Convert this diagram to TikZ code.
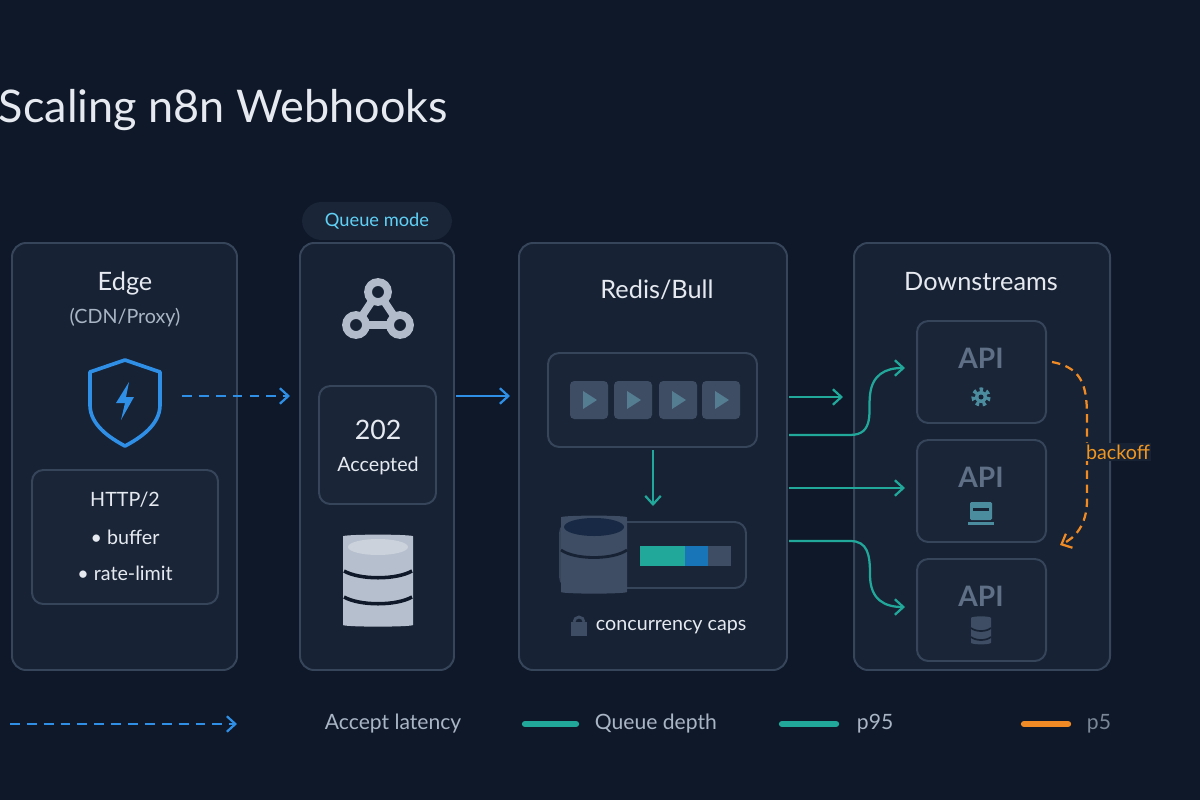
\documentclass[tikz,border=0pt]{standalone}
\usepackage{fontspec}
\setmainfont{Lato}
\usetikzlibrary{arrows.meta,positioning,shapes.geometric}
\definecolor{bgdark}{HTML}{0E1828}
\definecolor{panelfill}{HTML}{172234}
\definecolor{panelline}{HTML}{36455A}
\definecolor{boxfill}{HTML}{1A2638}
\definecolor{txtmain}{HTML}{E6EAF0}
\definecolor{txtsub}{HTML}{A9B4C4}
\definecolor{flowblue}{HTML}{2F8FE6}
\definecolor{flowteal}{HTML}{22A89A}
\definecolor{flowor}{HTML}{F08A24}
\definecolor{apigray}{HTML}{5E6F86}
\definecolor{iconslate}{HTML}{3E4D63}

\begin{document}
\begin{tikzpicture}[x=0.025cm,y=-0.025cm,
  panel/.style={draw=panelline,line width=1.4pt,fill=panelfill,rounded corners=10pt},
  inbox/.style={draw=panelline,line width=1.4pt,fill=boxfill,rounded corners=8pt},
  ptitle/.style={text=txtmain,font=\fontsize{18}{20}\selectfont},
  btext/.style={text=txtmain,font=\fontsize{14}{16}\selectfont},
  apitxt/.style={text=apigray,font=\bfseries\fontsize{20}{22}\selectfont},
  tealflow/.style={draw=flowteal,line width=1.6pt,-{Straight Barb[length=6pt,width=11pt]}},
  legtxt/.style={text=txtsub,font=\fontsize{15}{17}\selectfont,anchor=west}]
  \fill[bgdark] (0,0) rectangle (1200,800);
  \useasboundingbox (0,0) rectangle (1200,800);
  \node[anchor=west,text=txtmain,font=\fontsize{32}{35}\selectfont] (title) at (-6,110) {Scaling n8n Webhooks};

  % panels
  \draw[panel] (12,243) rectangle (237,670);
  \draw[panel] (300,243) rectangle (454,670);
  \draw[panel] (519,243) rectangle (787,670);
  \draw[panel] (854,243) rectangle (1110,670);

  % edge
  \node[ptitle] (edge) at (125,283) {Edge};
  \node[btext,text=txtsub] (proxy) at (125,318) {(CDN/Proxy)};
  \draw[flowblue,line width=2.6pt,line join=round] (125,360) -- (160,372) -- (160,405)
    .. controls (160,425) and (140,438) .. (125,446) .. controls (110,438) and (90,425) .. (90,405)
    -- (90,372) -- cycle;
  \fill[flowblue] (129,382) -- (116,403) -- (125,403) -- (121,420) -- (134,397) -- (126,397) -- cycle;
  \coordinate (shield) at (182,396);
  \draw[inbox] (32,470) rectangle (218,604);
  \node[btext] (http) at (125,500) {HTTP/2};
  \node[btext] (buf) at (125,537) {\textbullet\ buffer};
  \node[btext] (rate) at (125,573) {\textbullet\ rate-limit};

  % queue mode
  \fill[boxfill,rounded corners=14pt] (302,202) rectangle (452,240);
  \node[text=flowblue!60!cyan!70!white,font=\fontsize{13}{15}\selectfont] (qmode) at (377,221) {Queue mode};
  \begin{scope}[draw=txtsub!90!white,line width=5.5pt]
    \draw (378,292) -- (356,325) -- (400,325) -- cycle;
    \draw[fill=panelfill] (378,292) circle (10);
    \draw[fill=panelfill] (356,325) circle (10);
    \draw[fill=panelfill] (400,325) circle (10);
  \end{scope}
  \draw[inbox] (319,386) rectangle (436,504);
  \node[text=txtmain,font=\fontsize{19}{21}\selectfont] (code) at (378,430) {202};
  \node[btext] (acc) at (378,466) {Accepted};
  \node[cylinder,shape border rotate=90,aspect=0.35,minimum width=70*0.025cm,minimum height=92*0.025cm,
    fill=txtsub!85!white,draw=none] (qdb) at (378,582) {};
  \fill[txtsub!60!white] (378,547) ellipse (30 and 8);
  \draw[bgdark,line width=2.5pt] (344,571) .. controls (360,580) and (396,580) .. (412,571);
  \draw[bgdark,line width=2.5pt] (344,597) .. controls (360,606) and (396,606) .. (412,597);

  % redis
  \node[ptitle] (redis) at (657,290) {Redis/Bull};
  \draw[inbox] (548,353) rectangle (757,447);
  \foreach \qx in {589,633,678,721}{
    \fill[iconslate,rounded corners=3pt] (\qx-19,381) rectangle (\qx+19,419);
    \fill[apigray!90!cyan] (\qx-6,391) -- (\qx+8,400) -- (\qx-6,409) -- cycle;
  }
  \coordinate (qtop) at (653,450);
  \draw[inbox] (560,522) rectangle (746,588);
  \coordinate (qdown) at (653,506);
  \draw[flowteal,line width=1.6pt,-{Straight Barb[length=6pt,width=11pt]}] (qtop) -- (qdown);
  \node[cylinder,shape border rotate=90,aspect=0.35,minimum width=66*0.025cm,minimum height=78*0.025cm,
    fill=iconslate,draw=none] (rdb) at (594,556) {};
  \fill[iconslate!120!white] (594,527) ellipse (30 and 9);
  \draw[panelfill,line width=2pt] (561,550) .. controls (575,560) and (613,560) .. (627,550);
  \fill[iconslate] (708,546) rectangle (731,566);
  \fill[flowteal!70!blue] (685,546) rectangle (708,566);
  \fill[flowteal] (640,546) rectangle (685,566);
  \fill[iconslate] (571,622) rectangle (587,636);
  \draw[iconslate,line width=2pt] (574,622) arc[start angle=180,end angle=360,radius=5];
  \node[btext,anchor=west] (caps) at (591,627) {concurrency caps};

  % downstreams
  \node[ptitle] (down) at (981,282) {Downstreams};
  \foreach \ay/\nm in {321/apiA,440/apiB,559/apiC}{
    \draw[inbox] (917,\ay) rectangle (1046,\ay+102);
    \node[apitxt] (\nm) at (981,\ay+37) {API};
  }
  \coordinate (inA) at (905,368);
  \coordinate (inB) at (905,488);
  \coordinate (inC) at (905,607);
  \draw[apigray!80!cyan,line width=3pt,dash pattern=on 2.4pt off 2.4pt] (981,397) circle (7.5);
  \fill[apigray!80!cyan] (981,397) circle (6);
  \fill[panelfill] (981,397) circle (2.5);
  \fill[apigray!80!cyan,rounded corners=1pt] (970,502) rectangle (992,520);
  \fill[panelfill] (973,508) rectangle (989,511);
  \fill[apigray!80!cyan] (968,522) rectangle (994,525);
  \node[cylinder,shape border rotate=90,aspect=0.35,minimum width=20*0.025cm,minimum height=28*0.025cm,
    fill=iconslate,draw=none] at (981,632) {};
  \draw[panelfill,line width=1.2pt] (971,628) .. controls (976,632) and (986,632) .. (991,628);
  \draw[panelfill,line width=1.2pt] (971,637) .. controls (976,641) and (986,641) .. (991,637);

  % flows
  \draw[flowblue,line width=1.6pt,dash pattern=on 7pt off 5pt,-{Straight Barb[length=6pt,width=11pt]}] (shield) -- (290,396);
  \draw[flowblue,line width=1.6pt,-{Straight Barb[length=6pt,width=11pt]}] (456,396) -- (510,396);
  \coordinate (rq1) at (789,397);
  \coordinate (rq2) at (789,435);
  \coordinate (rq3) at (789,488);
  \coordinate (rq4) at (789,541);
  \draw[tealflow] (rq1) -- (843,397);
  \draw[tealflow] (rq2) -- (850,435) .. controls (875,435) and (868,410) .. (870,395) .. controls (872,375) and (885,368) .. (inA);
  \draw[tealflow] (rq3) -- (inB);
  \draw[tealflow] (rq4) -- (850,541) .. controls (868,541) and (870,555) .. (870,575) .. controls (870,600) and (885,607) .. (inC);
  \coordinate (boff) at (1052,362);
  \draw[flowor,line width=1.6pt,dash pattern=on 6pt off 4pt,-{Straight Barb[length=6pt,width=11pt]}]
    (boff) .. controls (1085,368) and (1087,390) .. (1087,420) -- (1087,500) .. controls (1087,525) and (1075,538) .. (1060,545);
  \node[fill=panelfill,inner sep=1pt,text=flowor!90!yellow,font=\fontsize{14}{16}\selectfont] (backoff) at (1118,452) {backoff};

  % legend
  \coordinate (lg0) at (10,724);
  \draw[flowblue,line width=1.6pt,dash pattern=on 7pt off 5pt,-{Straight Barb[length=6pt,width=11pt]}] (lg0) -- (237,724);
  \node[legtxt] (l1) at (320,724) {Accept latency};
  \draw[flowteal,line width=4.5pt,line cap=round] (525,724) -- (576,724);
  \node[legtxt] (l2) at (590,724) {Queue depth};
  \draw[flowteal,line width=4.5pt,line cap=round] (782,724) -- (836,724);
  \node[legtxt] (l3) at (852,724) {p95};
  \draw[flowor,line width=4.5pt,line cap=round] (1024,724) -- (1068,724);
  \node[legtxt,text=txtsub!70!bgdark] (l4) at (1082,724) {p5};
\end{tikzpicture}
\end{document}
